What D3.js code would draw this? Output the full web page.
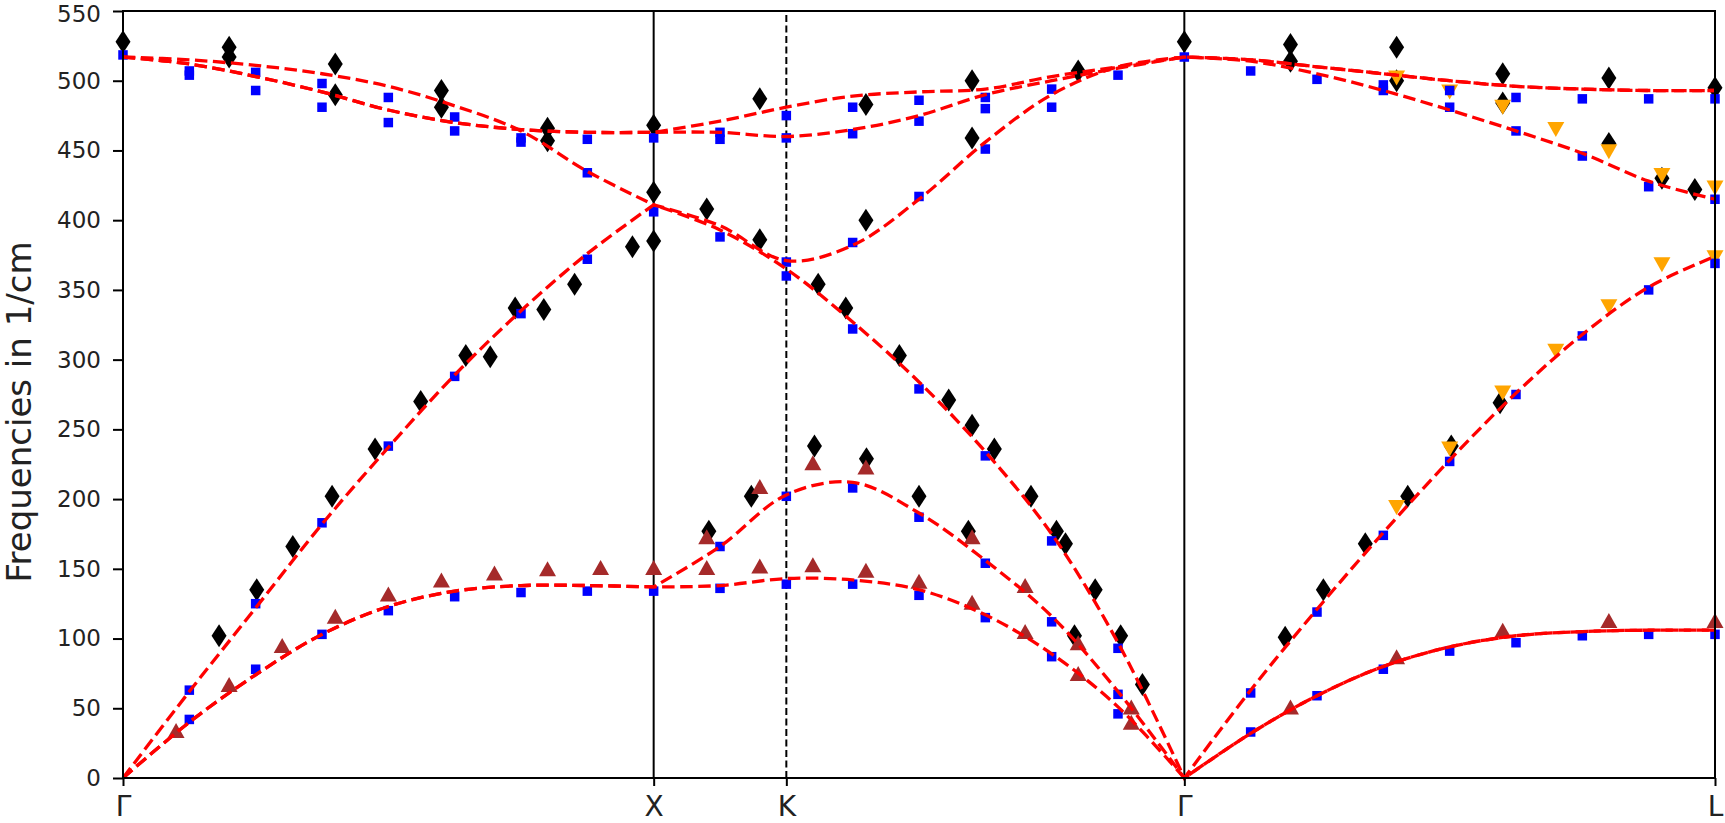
<!DOCTYPE html>
<html>
<head>
<meta charset="utf-8">
<script src="https://cdn.jsdelivr.net/npm/d3@7"></script>
<style>
  html, body { margin: 0; padding: 0; background: #fff; }
  svg { display: block; font-family: "DejaVu Sans", sans-serif; }
</style>
</head>
<body>
<script>
// Pfad durch die Brillouin-Zone: Γ=0, X=1, K=1.25, Γ=2, L=3
const pathTicks = [0, 1, 1.25, 2, 3];
const pathLabels = ["Γ", "X", "K", "Γ", "L"];
const yTicks = [0, 50, 100, 150, 200, 250, 300, 350, 400, 450, 500, 550];

// q-Punkte der gerechneten Baender (Schritt 1/8 pro Abschnitt)
const qGrid = [0, 0.125, 0.25, 0.375, 0.5, 0.625, 0.75, 0.875,
               1, 1.125, 1.25, 1.375, 1.5, 1.625, 1.75, 1.875,
               2, 2.125, 2.25, 2.375, 2.5, 2.625, 2.75, 2.875, 3];

// rote gestrichelte Baender (1/cm)
const bandTA1 = [0, 40, 74, 103, 123, 134, 138, 138, 137,
                 138, 143, 142, 135, 117, 89, 51, 0,
                 32, 59, 80, 94, 102, 105, 106, 106];
const bandTA2 = [0, 40, 74, 103, 123, 134, 138, 138, 137,
                 166, 203, 212, 190, 156, 116, 62, 0,
                 32, 59, 80, 94, 102, 105, 106, 106];
const bandLA  = [0, 62, 122, 182, 237, 289, 335, 376, 411,
                 393, 365, 327, 284, 234, 175, 97, 0,
                 63, 121, 176, 228, 276, 318, 352, 374];
const bandLO  = [517, 515, 511, 505, 496, 482, 464, 435, 411,
                 396, 371, 382, 415, 456, 490, 510, 517,
                 514, 505, 493, 479, 464, 448, 428, 415];
const bandTO1 = [517, 512, 503, 492, 479, 470, 465, 463, 463,
                 463, 460, 465, 475, 490, 500, 509, 517,
                 515, 510, 505, 500, 496, 494, 493, 493];
const bandTO2 = [517, 512, 503, 492, 479, 470, 465, 463, 463,
                 471, 481, 489, 492, 494, 503, 510, 517,
                 515, 510, 505, 500, 496, 494, 493, 493];
const bands = [bandTA1, bandTA2, bandLA, bandLO, bandTO1, bandTO2];

// blaue Quadrate [q, f]
const blueSquares = [
  [0, 518.5],
  [0.125, 507], [0.125, 504], [0.125, 63], [0.125, 42],
  [0.25, 506], [0.25, 493], [0.25, 125], [0.25, 78],
  [0.375, 498], [0.375, 481], [0.375, 183], [0.375, 103],
  [0.5, 488], [0.5, 470], [0.5, 238], [0.5, 120],
  [0.625, 474], [0.625, 464], [0.625, 288], [0.625, 130],
  [0.75, 459], [0.75, 456], [0.75, 333], [0.75, 133],
  [0.875, 458], [0.875, 434], [0.875, 372], [0.875, 134],
  [1, 459], [1, 406], [1, 134],
  [1.125, 463], [1.125, 458], [1.125, 388], [1.125, 166], [1.125, 136],
  [1.25, 475], [1.25, 459], [1.25, 370], [1.25, 360], [1.25, 202], [1.25, 139],
  [1.375, 481], [1.375, 462], [1.375, 384], [1.375, 322], [1.375, 208], [1.375, 139],
  [1.5, 486], [1.5, 471], [1.5, 417], [1.5, 279], [1.5, 187], [1.5, 131],
  [1.625, 488], [1.625, 480], [1.625, 451], [1.625, 231], [1.625, 154], [1.625, 115],
  [1.75, 494], [1.75, 481], [1.75, 170], [1.75, 112], [1.75, 87],
  [1.875, 504], [1.875, 93], [1.875, 60], [1.875, 46],
  [2, 517],
  [2.125, 507], [2.125, 61], [2.125, 33],
  [2.25, 501], [2.25, 119], [2.25, 59],
  [2.375, 497], [2.375, 493], [2.375, 174], [2.375, 78],
  [2.5, 493], [2.5, 481], [2.5, 227], [2.5, 91],
  [2.625, 488], [2.625, 464], [2.625, 275], [2.625, 97],
  [2.75, 487], [2.75, 446], [2.75, 317], [2.75, 102],
  [2.875, 487], [2.875, 424], [2.875, 350], [2.875, 103],
  [3, 487], [3, 415], [3, 369], [3, 103]
];

// schwarze Rauten (Messung)
const blackDiamonds = [
  [0, 528], [0.2, 524], [0.2, 517], [0.4, 512], [0.4, 490],
  [0.6, 493], [0.6, 481], [0.8, 466], [0.8, 457],
  [1, 468], [1, 420], [1, 385],
  [0.181, 102], [0.252, 135], [0.32, 166], [0.394, 202], [0.475, 236],
  [0.561, 270], [0.646, 303], [0.692, 302], [0.739, 337], [0.793, 336],
  [0.851, 354], [0.96, 381],
  [1.1, 408], [1.2, 487], [1.2, 386], [1.31, 354], [1.362, 337],
  [1.4, 483], [1.4, 400], [1.463, 303], [1.556, 271],
  [1.6, 500], [1.6, 459], [1.6, 253], [1.642, 236], [1.711, 202],
  [1.759, 177], [1.776, 168], [1.8, 507], [1.832, 135], [1.88, 102], [1.921, 67],
  [1.104, 177], [1.184, 202], [1.303, 238], [1.401, 229], [1.5, 202],
  [1.593, 177], [1.793, 102],
  [2, 528], [2.2, 526], [2.2, 514], [2.4, 524], [2.4, 500],
  [2.6, 505], [2.6, 484], [2.8, 502], [2.8, 455], [2.9, 430],
  [2.962, 422], [3, 495],
  [2.19, 101], [2.262, 135], [2.341, 168], [2.421, 202], [2.503, 238], [2.595, 269]
];

// braune Dreiecke (Messung)
const brownTriangles = [
  [0.1, 34], [0.2, 67], [0.3, 95], [0.4, 116], [0.5, 132],
  [0.6, 142], [0.7, 147], [0.8, 150], [0.9, 151], [1, 151],
  [1.1, 173], [1.1, 151], [1.2, 209], [1.2, 152], [1.3, 226], [1.3, 153],
  [1.4, 223], [1.4, 149], [1.5, 141], [1.6, 173], [1.6, 126],
  [1.7, 138], [1.7, 105], [1.8, 97], [1.8, 75], [1.9, 51], [1.9, 40],
  [2.2, 51], [2.4, 87], [2.6, 106], [2.8, 113], [3, 113]
];

// orange Dreiecke nach unten (Messung)
const orangeTriangles = [
  [2.4, 502], [2.5, 492], [2.6, 481], [2.7, 465], [2.8, 449], [2.9, 432], [3, 423],
  [2.4, 194], [2.5, 236], [2.6, 276], [2.7, 306], [2.8, 338], [2.9, 368], [3, 373]
];

const W = 1725, H = 823;
const margin = {top: 11, right: 10, bottom: 45, left: 123};

const svg = d3.select("body").append("svg")
    .attr("width", W)
    .attr("height", H);

const x = d3.scaleLinear().domain([0, 3]).range([margin.left, W - margin.right]);
const y = d3.scaleLinear().domain([0, 550]).range([H - margin.bottom, margin.top]);

// senkrechte Linien an den Symmetriepunkten
svg.selectAll("line.sym")
    .data([1, 1.25, 2])
    .join("line")
    .attr("class", "sym")
    .attr("x1", d => x(d)).attr("x2", d => x(d))
    .attr("y1", y(0)).attr("y2", y(550))
    .attr("stroke", "#000")
    .attr("stroke-width", 2)
    .attr("stroke-dasharray", d => d === 1.25 ? "7,3.5" : null);

// Marker
const diamondPath = "M0,-11.5L7.5,0L0,11.5L-7.5,0Z";
const triUpPath = "M0,-7.5L8.5,7.5L-8.5,7.5Z";
const triDownPath = "M0,7.5L8.5,-7.5L-8.5,-7.5Z";

svg.append("g").selectAll("path")
    .data(blackDiamonds)
    .join("path")
    .attr("d", diamondPath)
    .attr("transform", d => `translate(${x(d[0])},${y(d[1])})`)
    .attr("fill", "#000");

svg.append("g").selectAll("path")
    .data(brownTriangles)
    .join("path")
    .attr("d", triUpPath)
    .attr("transform", d => `translate(${x(d[0])},${y(d[1])})`)
    .attr("fill", "#a52a2a");

svg.append("g").selectAll("path")
    .data(orangeTriangles)
    .join("path")
    .attr("d", triDownPath)
    .attr("transform", d => `translate(${x(d[0])},${y(d[1])})`)
    .attr("fill", "#ffa500");

const sq = 9.5;
svg.append("g").selectAll("rect")
    .data(blueSquares)
    .join("rect")
    .attr("x", d => x(d[0]) - sq / 2)
    .attr("y", d => y(d[1]) - sq / 2)
    .attr("width", sq)
    .attr("height", sq)
    .attr("fill", "#0000ff");

// Baender: je Abschnitt glatt, aber als ein Pfad (Strichmuster laeuft durch)
const lineGen = d3.line()
    .x(d => x(d[0]))
    .y(d => y(d[1]))
    .curve(d3.curveCatmullRom);

function branchPath(vals) {
    let p = "";
    [[0, 8], [8, 16], [16, 24]].forEach(([a, b], i) => {
        const pts = qGrid.slice(a, b + 1).map((q, j) => [q, vals[a + j]]);
        const seg = lineGen(pts);
        p += i === 0 ? seg : "L" + seg.slice(1);
    });
    return p;
}

svg.append("g").selectAll("path")
    .data(bands)
    .join("path")
    .attr("d", d => branchPath(d))
    .attr("fill", "none")
    .attr("stroke", "#ff0000")
    .attr("stroke-width", 3.3)
    .attr("stroke-dasharray", "12.5,5.5");

// Achsen
const yAxis = svg.append("g")
    .attr("transform", `translate(${margin.left},0)`)
    .call(d3.axisLeft(y).tickValues(yTicks).tickSize(10).tickPadding(12));

const xAxis = svg.append("g")
    .attr("transform", `translate(0,${H - margin.bottom})`)
    .call(d3.axisBottom(x).tickValues(pathTicks)
        .tickFormat((d, i) => pathLabels[i]).tickSize(8).tickPadding(10));

[yAxis, xAxis].forEach(g => {
    g.select(".domain").remove();
    g.selectAll(".tick line").attr("stroke", "#000").attr("stroke-width", 2);
    g.selectAll(".tick text").attr("fill", "#222").style("font-family", "DejaVu Sans");
});
yAxis.selectAll(".tick text").style("font-size", "23px");
// oberste Beschriftung etwas tiefer, damit sie nicht am Rand abgeschnitten wird
yAxis.selectAll(".tick text").filter(d => d === 550).attr("dy", "0.46em");
xAxis.selectAll(".tick text").style("font-size", "28px");

// Rahmen
svg.append("rect")
    .attr("x", margin.left)
    .attr("y", margin.top)
    .attr("width", W - margin.left - margin.right)
    .attr("height", H - margin.top - margin.bottom)
    .attr("fill", "none")
    .attr("stroke", "#000")
    .attr("stroke-width", 2);

// Y-Achsenbeschriftung
svg.append("text")
    .attr("transform", "translate(31,412) rotate(-90)")
    .style("text-anchor", "middle")
    .style("font-size", "34px")
    .attr("fill", "#222")
    .text("Frequencies in 1/cm");
</script>
</body>
</html>
